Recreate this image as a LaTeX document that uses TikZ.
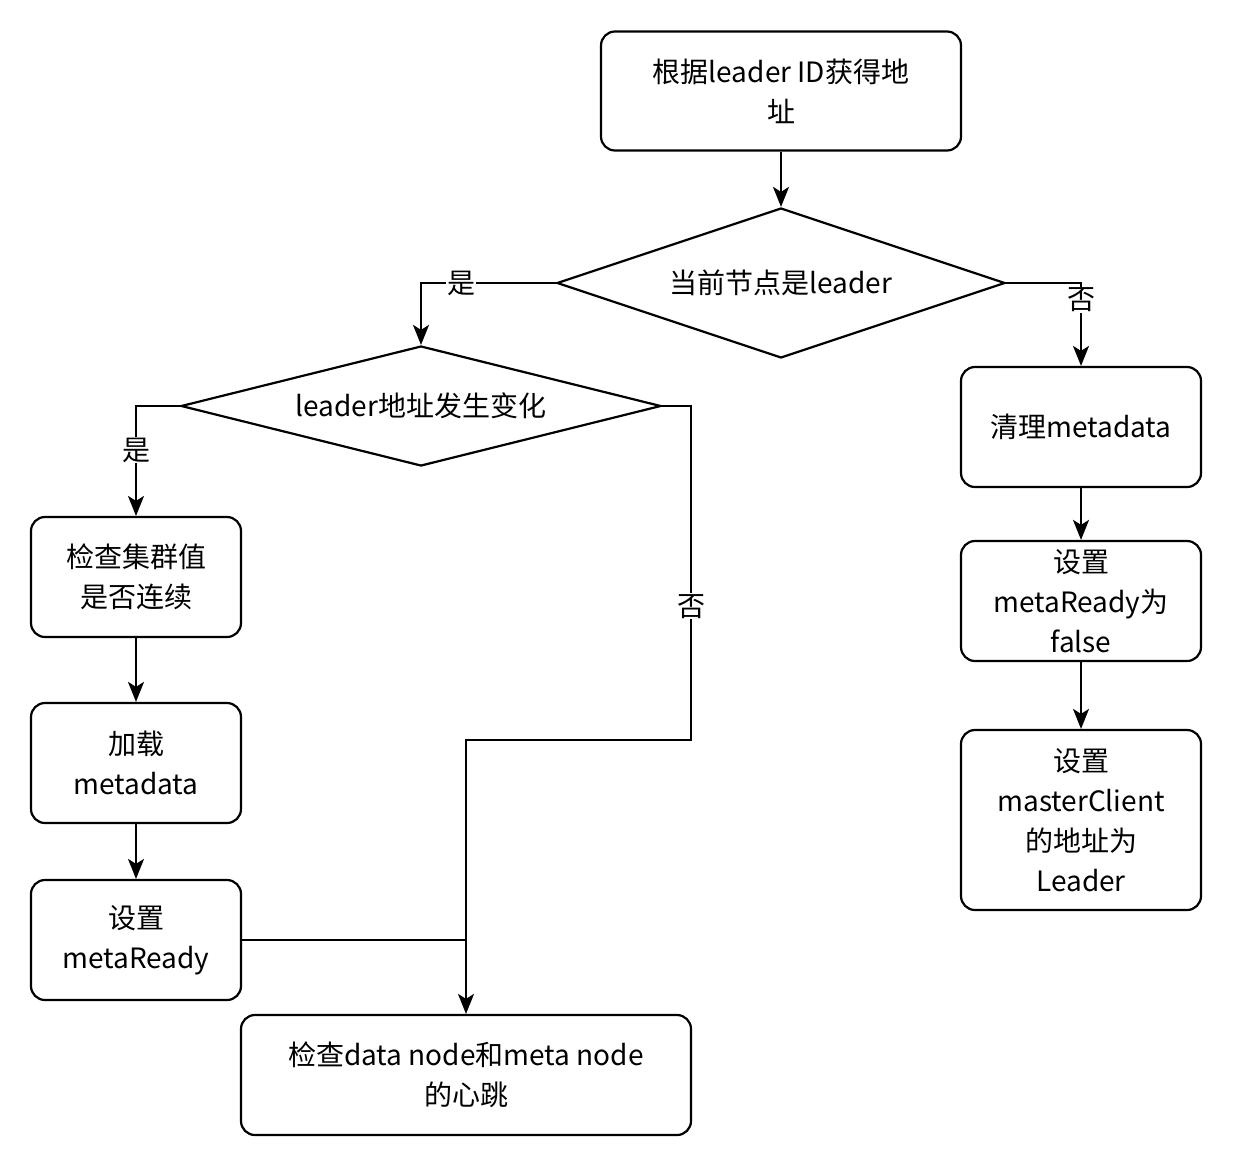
\documentclass[tikz,border=0pt]{standalone}
\usepackage{fontspec}
\setmainfont{Noto Sans CJK SC}
\usetikzlibrary{shapes.geometric,arrows.meta}
\begin{document}
\begin{tikzpicture}[x=1pt,y=-1pt,
  box/.style={draw,line width=2.2pt,rounded corners=14pt,align=center,inner sep=0pt,font=\fontsize{28}{40}\selectfont},
  dia/.style={draw,line width=2.2pt,diamond,aspect=3,inner sep=0pt,font=\fontsize{28}{40}\selectfont},
  lab/.style={font=\fontsize{28}{34}\selectfont,fill=white,inner sep=1pt},
  ar/.style={line width=2.2pt,-{Stealth[length=20pt,width=16pt,inset=5pt]}},
  ln/.style={line width=2.2pt}]
\useasboundingbox (0,0) rectangle (1233,1167);
\node[box,minimum width=360pt,minimum height=119pt] (top) at (781,91) {根据leader ID获得地\\址};
\node[dia,minimum width=448pt,minimum height=150pt] (d1) at (781,283) {当前节点是leader};
\node[dia,minimum width=480pt,minimum height=120pt] (d2) at (421,406) {leader地址发生变化};
\node[box,minimum width=240pt,minimum height=120pt] (r1) at (1081,427) {清理metadata};
\node[box,minimum width=240pt,minimum height=120pt] (r2) at (1081,601) {设置\\metaReady为\\false};
\node[box,minimum width=240pt,minimum height=180pt] (r3) at (1081,820) {设置\\masterClient\\的地址为\\Leader};
\node[box,minimum width=210pt,minimum height=120pt] (l1) at (136,577) {检查集群值\\是否连续};
\node[box,minimum width=210pt,minimum height=120pt] (l2) at (136,763) {加载\\metadata};
\node[box,minimum width=210pt,minimum height=120pt] (l3) at (136,940) {设置\\metaReady};
\node[box,minimum width=450pt,minimum height=120pt] (bot) at (466,1075) {检查data node和meta node\\的心跳};
\coordinate (m) at (466,940);
\draw[ar] (top) -- (d1);
\draw[ar] (d1.west) -| (d2.north) node[lab,pos=0.35] {是};
\draw[ar] (d1.east) -| (r1.north) node[lab,pos=0.6] {否};
\draw[ar] (d2.west) -| (l1.north) node[lab,pos=0.7] {是};
\draw[ar] (d2.east) -- (691,406) -- (691,740) node[lab,pos=0.6] {否} -- (466,740) -- (bot.north);
\draw[ln] (l3.east) -- (m);
\draw[ar] (r1) -- (r2);
\draw[ar] (r2) -- (r3);
\draw[ar] (l1) -- (l2);
\draw[ar] (l2) -- (l3);
\end{tikzpicture}
\end{document}
